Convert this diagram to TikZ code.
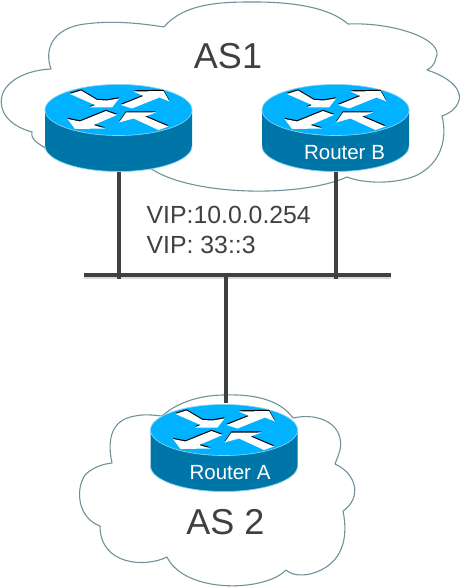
\documentclass[tikz,border=0pt]{standalone}
\usepackage{fontspec}
\setmainfont{Liberation Sans}
\usetikzlibrary{positioning, calc}
\definecolor{cloudline}{HTML}{6F9399}
\definecolor{wire}{HTML}{404040}
\definecolor{rtop}{HTML}{00B2FF}
\definecolor{rside}{HTML}{0076A8}
\definecolor{rrim}{HTML}{7FD4F2}
\tikzset{
    cloudpath/.style={draw=cloudline, fill=white, line width=1.1pt, line join=round},
    wireline/.style={draw=wire, line width=4pt},
    wireshade/.style={draw=black!15, line width=4pt},
    astext/.style={text=wire, font=\fontsize{36}{36}\selectfont},
    viptext/.style={text=wire, font=\fontsize{24.8}{30}\selectfont, align=left, anchor=north west, inner sep=0pt},
    routertext/.style={text=white, font=\fontsize{20.5}{20.5}\selectfont},
    router/.pic={
        \fill[rside] (-73.5,0) -- (-73.5,36) arc[x radius=73.5, y radius=25.5, start angle=180, end angle=0]
            -- (73.5,0) -- cycle;
        \draw[rrim, line width=0.7pt] (-73.5,36) arc[x radius=73.5, y radius=25.5, start angle=180, end angle=0];
        \fill[rtop, draw=rrim, line width=0.7pt] (0,0) ellipse[x radius=73.5, y radius=25.5];
        \foreach \shiftup/\col in {1.2/black, 0/white} {
            \fill[\col, yshift=\shiftup pt]
                (-48.5,-16) -- (-37.5,-19.5) -- (-21.5,-10) -- (-11.5,-9.5) -- (0.5,-11.5) -- (-6.5,-2.5)
                -- (-29,-2.5) -- (-23.5,-5) -- cycle;
            \fill[\col, yshift=\shiftup pt]
                (2.5,-5) -- (25,-14) -- (15,-18.5) -- (45,-19) -- (51,-8.5) -- (41,-12.5) -- (13.5,-1.5) -- cycle;
            \fill[\col, yshift=\shiftup pt]
                (-1.5,5) -- (-12.5,1) -- (-38.5,11.5) -- (-51,9) -- (-43.5,19) -- (-13.5,18.5) -- (-25,15) -- cycle;
            \fill[\col, yshift=\shiftup pt]
                (0.5,12.5) -- (7.5,2.5) -- (37.5,2.5) -- (26.5,6.5) -- (50,16.5) -- (40,20) -- (15,8.5) -- cycle;
        }
    }
}
\begin{document}
\begin{tikzpicture}[x=1pt, y=-1pt]
    \useasboundingbox (0,0) rectangle (460,588);
    \fill[white] (0,0) rectangle (460,588);

    \draw[cloudpath] (51,69) .. controls (44,50) and (52,28) .. (85,24)
        .. controls (115,20) and (145,24) .. (164,27)
        .. controls (185,2) and (225,2) .. (255,2)
        .. controls (295,2) and (330,8) .. (348,24)
        .. controls (395,22) and (445,40) .. (436,58)
        .. controls (435,64) and (431,68) .. (427,70)
        .. controls (452,78) and (464,92) .. (458,103)
        .. controls (455,110) and (448,114) .. (442,116)
        .. controls (448,140) and (440,165) .. (415,176)
        .. controls (395,184) and (365,184) .. (347,177)
        .. controls (300,198) and (190,196) .. (150,168)
        -- (60,155)
        .. controls (40,146) and (30,140) .. (32,132)
        .. controls (10,126) and (-2,112) .. (2,96)
        .. controls (6,80) and (28,70) .. (51,69) -- cycle;

    \draw[cloudpath] (112,463) .. controls (108,445) and (108,420) .. (135,416)
        .. controls (145,414) and (152,415) .. (162,416)
        .. controls (180,400) and (205,395) .. (225,395)
        .. controls (255,394) and (280,400) .. (293,418)
        .. controls (320,412) and (345,425) .. (340,450)
        .. controls (338,457) and (336,461) .. (335,464)
        .. controls (357,474) and (362,498) .. (343,511)
        .. controls (348,535) and (345,565) .. (310,574)
        .. controls (300,576) and (292,575) .. (286,570)
        .. controls (265,592) and (185,594) .. (167,557)
        .. controls (145,568) and (100,565) .. (100,526)
        .. controls (78,518) and (75,490) .. (85,475)
        .. controls (92,468) and (102,464) .. (112,463) -- cycle;

    \coordinate (busL) at (84,275);
    \coordinate (busR) at (391,275);
    \coordinate (portL) at (118.5,170);
    \coordinate (portB) at (336,170);
    \coordinate (tapL) at (118.5,279);
    \coordinate (tapB) at (336,279);
    \coordinate (tapA) at (226,275);
    \coordinate (portA) at (226,403);

    \draw[wireshade] ([yshift=-2pt]busL) -- ([yshift=-2pt]busR);
    \draw[wireline] (portL) -- (tapL);
    \draw[wireline] (portB) -- (tapB);
    \draw[wireline] (busL) -- (busR);
    \draw[wireline] (tapA) -- (portA);

    \path (118.5,110) pic {router};
    \path (335.5,110) pic {router};
    \path (224,430) pic {router};

    \node[astext] (as1) at (228,56) {AS1};
    \node[astext] (as2) at (225.5,522) {AS 2};
    \node[viptext] (vip) at (146.5,205.5) {VIP:10.0.0.254\\VIP: 33::3};
    \node[routertext] (nameB) at (344.5,153) {Router B};
    \node[routertext] (nameA) at (230,473) {Router A};
\end{tikzpicture}
\end{document}
